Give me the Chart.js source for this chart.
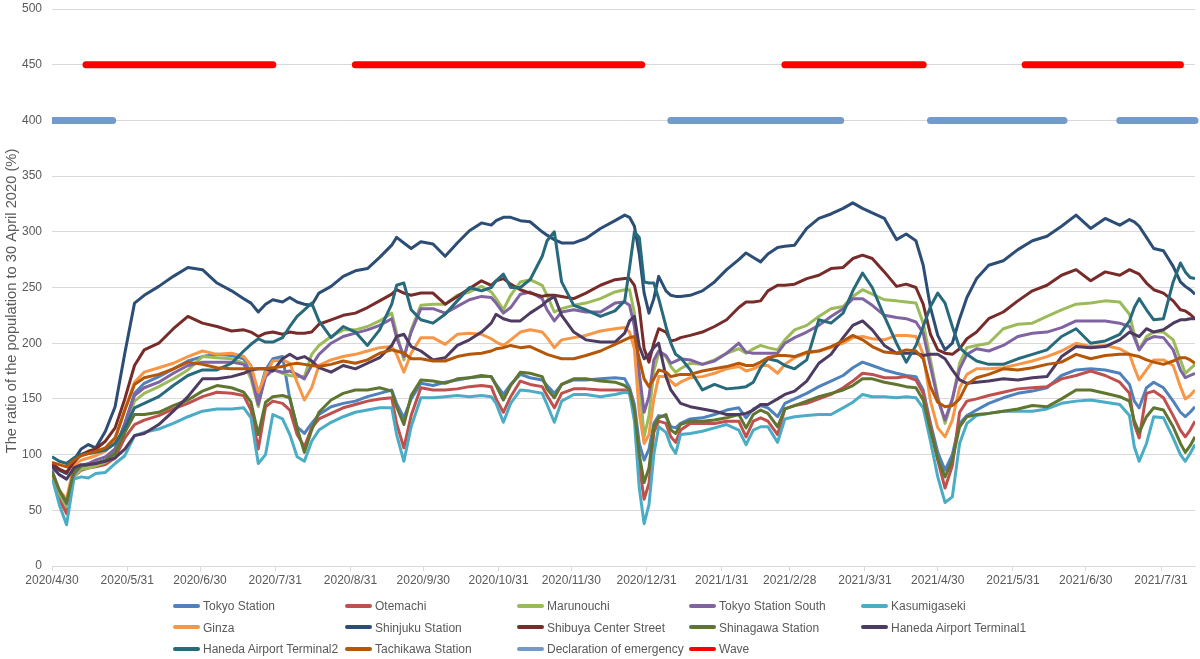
<!DOCTYPE html>
<html>
<head>
<meta charset="utf-8">
<script src="https://cdn.jsdelivr.net/npm/chart.js@4.4.1/dist/chart.umd.min.js"></script>
<style>
html,body{margin:0;padding:0;background:#fff;}
#wrap{position:relative;width:1200px;height:659px;}
#legend{position:absolute;left:173px;top:596px;display:grid;grid-template-columns:repeat(5,172px);
  font:12px 'Liberation Sans',Arial,sans-serif;color:#595959;line-height:21.5px;}
.item{white-space:nowrap;}
.sw{display:inline-block;width:27px;height:4px;border-radius:2px;vertical-align:middle;margin-right:3px;position:relative;top:-1px;}
</style>
</head>
<body>
<div id="wrap">
  <canvas id="c" width="1200" height="659" style="width:1200px;height:659px"></canvas>
  <div id="legend"></div>
</div>
<script>
// ===== data (day index from 2020/4/30) =====
const days = [0,3,6,9,12,15,18,22,26,30, 34,38,44,50,56,62,68,74,79,82,
  85,88,91,95,98,101,104,107,110,115, 120,125,130,135,140,142,145,148,152,157,
  162,167,172,177,181,183,186,189,193,197, 202,204,207,210,215,220,226,232,236,238,
  240,242,244,246,248,250,253,255,257,259, 263,268,273,278,283,286,289,292,295,299,
  302,306,311,316,321,326,330,334,338,343, 348,352,356,359,362,365,368,371,374,377,
  381,386,392,398,404,410,416,422,428,434, 440,444,446,448,451,454,458,462,465,467,
  469,471];

const tokyoStation = [82,62,50,82,89,91,92,95,105,128, 155,164,170,177,184,188,190,189,186,172,
  152,176,186,188,150,125,119,128,136,143, 146,148,152,155,158,146,133,150,164,162,
  165,167,169,170,170,163,154,163,172,169, 167,162,155,163,167,167,168,169,168,160,
  145,110,95,105,128,135,134,125,124,128, 132,133,136,140,142,133,141,144,142,134,
  146,150,155,161,166,171,178,183,180,176, 173,171,170,158,128,102,86,100,128,135,
  140,146,151,155,157,160,171,176,177,176, 173,163,148,142,160,165,160,148,138,134,
  138,143];
const otemachi = [80,60,47,80,86,88,89,91,97,115, 127,131,135,141,146,152,156,155,153,140,
  105,143,148,146,140,118,107,124,132,137, 142,145,148,150,151,128,106,135,160,158,
  158,159,161,162,161,150,138,152,166,163, 161,153,142,155,159,159,158,158,158,155,
  138,90,60,74,120,130,128,116,111,122, 128,128,128,130,130,116,130,133,130,118,
  141,144,146,150,154,160,166,173,172,169, 169,170,167,155,126,95,70,90,138,148,
  150,153,156,159,160,161,168,171,175,171, 165,155,127,115,155,157,151,135,122,116,
  122,130];
const marunouchi = [83,65,53,80,87,88,90,93,101,126, 148,155,161,168,176,188,187,186,182,168,
  143,175,177,173,171,170,170,190,198,206, 212,212,215,220,227,209,185,212,234,235,
  235,243,246,251,246,240,230,243,255,257, 252,243,228,231,234,236,240,246,248,248,
  227,167,116,135,175,191,188,179,174,177, 182,181,185,191,195,191,195,198,196,194,
  203,212,216,224,231,233,242,248,244,239, 238,237,236,218,185,152,128,149,182,196,
  198,200,213,217,218,224,230,235,236,238, 237,226,208,194,206,210,210,203,185,173,
  177,181];
const tokyoSouth = [86,68,56,82,90,92,95,98,105,128, 153,160,165,173,180,183,183,183,181,172,
  145,170,176,174,175,172,168,180,190,200, 206,209,212,216,222,205,188,210,231,231,
  227,233,239,242,241,236,227,232,244,246, 240,230,220,228,230,228,228,236,237,234,
  215,173,138,152,185,193,189,182,184,186, 185,181,184,191,200,192,191,191,191,191,
  200,205,210,216,224,231,240,240,234,225, 223,222,219,209,179,150,131,150,177,190,
  195,193,198,206,209,210,214,220,220,220, 218,215,205,194,203,206,205,194,176,169,
  171,173];
const kasumigaseki = [80,55,37,78,80,79,83,84,92,99, 117,120,123,128,134,139,141,141,142,133,
  92,100,136,132,118,98,94,112,122,129, 134,138,140,142,142,118,94,125,151,151,
  152,153,152,153,152,146,129,146,158,157, 155,145,129,148,154,154,152,154,156,155,
  130,70,38,55,100,125,120,108,101,118, 119,121,124,127,122,109,122,125,125,111,
  132,134,135,136,136,142,147,154,152,152, 151,152,151,142,112,80,57,62,110,128,
  135,137,139,139,139,141,146,148,149,147, 145,135,107,94,110,134,133,115,100,94,
  101,109];
const ginza = [82,68,60,90,95,97,99,103,113,140, 165,174,178,182,188,193,190,191,188,180,
  156,172,184,185,182,165,149,160,180,185, 188,190,193,196,197,190,174,191,205,205,
  199,208,209,208,204,201,198,203,210,212, 210,205,196,203,205,207,211,213,214,210,
  195,137,110,118,150,170,170,166,162,165, 169,170,173,177,179,175,177,180,180,173,
  181,187,191,193,196,200,205,206,204,203, 207,207,206,190,148,124,116,131,160,172,
  177,177,178,181,184,188,193,200,197,198, 195,190,178,167,176,185,185,180,161,150,
  153,158];
const shinjuku = [90,86,83,95,105,109,106,121,143,191, 236,243,251,260,268,266,254,247,240,236,
  228,235,239,237,241,237,235,234,245,251, 260,265,267,277,288,295,290,285,291,289,
  278,290,301,308,306,310,313,313,310,309, 300,297,293,290,290,294,303,310,315,313,
  305,280,245,227,240,260,247,243,242,242, 243,247,255,266,275,281,277,273,280,286,
  287,288,303,312,316,321,326,321,317,312, 293,298,292,270,232,207,194,200,222,241,
  258,270,274,284,292,296,305,315,303,312, 306,311,309,305,295,285,283,269,255,251,
  248,244];
const shibuya = [92,87,84,93,100,103,105,112,124,150, 180,194,200,213,224,218,215,211,212,210,
  206,209,210,208,210,209,209,210,217,221, 225,227,232,238,244,248,245,243,245,245,
  235,242,249,256,252,256,258,253,248,245, 242,243,243,242,240,245,252,257,258,258,
  252,232,195,183,200,213,210,202,203,205, 207,210,215,221,232,237,237,238,247,252,
  252,253,258,261,267,268,276,279,276,264, 251,253,250,235,208,194,191,190,195,204,
  210,222,228,238,247,252,261,266,256,264, 261,266,264,262,254,248,245,238,230,229,
  226,222];
const shinagawa = [84,68,57,85,90,91,92,95,101,120, 136,136,138,144,149,157,162,160,156,147,
  118,147,152,153,151,124,102,122,138,149, 155,158,158,160,157,143,127,153,167,166,
  164,168,169,171,170,162,149,162,174,173, 170,159,151,163,168,168,166,165,162,158,
  140,100,75,88,125,133,136,122,119,127, 130,130,131,133,136,124,136,140,137,125,
  141,144,148,152,155,158,162,168,168,165, 163,161,160,149,122,96,80,95,125,134,
  136,137,139,141,144,143,150,158,158,155, 152,148,130,120,134,142,140,125,110,102,
  108,116];
const hanedaT1 = [89,82,78,88,91,91,92,94,97,105, 117,119,127,139,152,168,168,170,173,176,
  177,177,175,186,190,186,188,184,178,174, 180,177,182,187,198,206,208,197,193,185,
  187,198,203,210,218,226,222,220,220,227, 234,238,242,225,210,203,201,201,209,220,
  224,197,186,190,196,200,170,158,152,146, 143,141,139,136,136,137,140,145,145,150,
  154,157,166,182,190,205,216,220,212,198, 191,191,191,189,190,190,186,176,167,164,
  165,166,168,167,169,170,188,197,196,197, 203,210,208,206,213,210,212,218,221,221,
  222,222];
const hanedaT2 = [98,94,92,97,100,101,102,104,110,124, 142,146,152,162,171,176,176,182,193,199,
  204,201,201,205,215,224,230,236,220,205, 215,210,198,212,235,252,254,230,221,218,
  226,238,250,247,250,256,262,250,250,257, 278,292,300,255,234,230,224,229,238,268,
  300,295,255,254,254,240,215,200,190,187, 176,158,163,159,160,161,165,178,186,184,
  180,177,185,221,218,227,247,263,250,224, 200,183,198,215,233,245,236,215,196,190,
  184,181,181,186,190,194,206,213,200,202, 208,220,232,240,230,221,222,255,272,264,
  259,258];
const tachikawa = [93,91,89,95,99,101,103,106,115,140, 163,169,172,177,183,181,178,177,177,177,
  177,177,178,179,181,182,181,180,179,181, 184,182,185,191,194,193,191,186,186,184,
  184,188,190,191,193,195,196,198,196,197, 192,190,188,186,186,189,193,199,203,205,
  206,186,168,161,168,176,174,170,171,172, 172,175,177,179,182,180,180,183,187,189,
  189,188,192,193,197,202,207,203,197,192, 191,194,193,186,161,147,143,144,150,163,
  169,172,177,176,178,181,183,190,186,189, 190,190,189,188,185,183,181,184,187,187,
  185,182];

// periods [start day, end day]
const emergency = [[0,25],[255,325],[362,417],[440,471]];
const waves = [[14,91],[125,243],[302,359],[401,465]];

const monthDays = [0,31,61,92,123,153,184,214,245,276,304,335,365,396,426,457];
const monthLabels = ['2020/4/30','2020/5/31','2020/6/30','2020/7/31','2020/8/31','2020/9/30','2020/10/31','2020/11/30',
  '2020/12/31','2021/1/31','2021/2/28','2021/3/31','2021/4/30','2021/5/31','2021/6/30','2021/7/31'];
const Y_TITLE = 'The ratio of the population to 30 April 2020 (%)';

// ===== series =====
const series = [
  ['Tokyo Station', tokyoStation, '#4F81BD'],
  ['Otemachi', otemachi, '#C0504D'],
  ['Marunouchi', marunouchi, '#9BBB59'],
  ['Tokyo Station South', tokyoSouth, '#8064A2'],
  ['Kasumigaseki', kasumigaseki, '#4BACC6'],
  ['Ginza', ginza, '#F79646'],
  ['Shinjuku Station', shinjuku, '#2C4D75'],
  ['Shibuya Center Street', shibuya, '#772C2A'],
  ['Shinagawa Station', shinagawa, '#5F7530'],
  ['Haneda Airport Terminal1', hanedaT1, '#4D3B62'],
  ['Haneda Airport Terminal2', hanedaT2, '#276A7C'],
  ['Tachikawa Station', tachikawa, '#B65708']
];

const periodData = (list, y) => {
  const out = [];
  list.forEach(([s, e]) => { out.push({x:s, y}, {x:e, y}, {x:e, y:null}); });
  return out;
};

const datasets = series.map(([name, vals, col], i) => ({
  label: name, data: days.map((d, j) => ({x:d, y:vals[j]})),
  borderColor: col, backgroundColor: col, borderWidth: 3, order: -i
}));
datasets.push({label:'Declaration of emergency', data: periodData(emergency, 400), borderColor:'#729ACA', backgroundColor:'#729ACA',
  borderWidth:7, borderCapStyle:'round', order:-12, clip:{left:0, right:5, top:false, bottom:false}});
datasets.push({label:'Wave', data: periodData(waves, 450), borderColor:'#FF0000', backgroundColor:'#FF0000',
  borderWidth:7, borderCapStyle:'round', order:-13});

// ===== y title =====
const yTitle = {id:'yTitle', afterDraw(c){
  const ctx = c.ctx; ctx.save();
  ctx.translate(12, 301); ctx.rotate(-Math.PI/2);
  ctx.font = "14.7px 'Liberation Sans', Arial, sans-serif"; ctx.fillStyle = '#595959';
  ctx.textAlign = 'center'; ctx.textBaseline = 'middle';
  ctx.fillText(Y_TITLE, 0, 0); ctx.restore();
}};

Chart.defaults.font.family = "'Liberation Sans', Arial, sans-serif";
Chart.defaults.font.size = 12;
Chart.defaults.color = '#595959';

const chart = new Chart(document.getElementById('c'), {
  type: 'line',
  data: { datasets },
  options: {
    responsive: false, animation: false,
    layout: { padding: { left: 0, right: 5, top: 9, bottom: 63 } },
    plugins: { legend: { display: false }, tooltip: { enabled: false } },
    elements: { point: { radius: 0 }, line: { tension: 0, borderJoinStyle: 'round' } },
    scales: {
      x: { type: 'linear', min: 0, max: 471,
        afterBuildTicks: s => { s.ticks = monthDays.map(v => ({ value: v })); },
        afterFit: s => { s.height = 30; },
        ticks: { callback: (v, i) => monthLabels[i], maxRotation: 0, autoSkip: false, padding: 2 },
        grid: { drawOnChartArea: false, drawTicks: true, tickLength: 5, color: '#D9D9D9' },
        border: { color: '#D9D9D9' } },
      y: { min: 0, max: 500,
        afterFit: s => { s.width = 52; s.paddingTop = 0; s.paddingBottom = 0; },
        ticks: { stepSize: 50, padding: 10 },
        grid: { color: '#D9D9D9', drawTicks: false },
        border: { display: false } }
    }
  },
  plugins: [yTitle]
});

// ===== legend =====
const lg = document.getElementById('legend');
datasets.forEach(d => {
  lg.insertAdjacentHTML('beforeend', `<div class="item"><span class="sw" style="background:${d.borderColor}"></span>${d.label}</div>`);
});
</script>
</body>
</html>
